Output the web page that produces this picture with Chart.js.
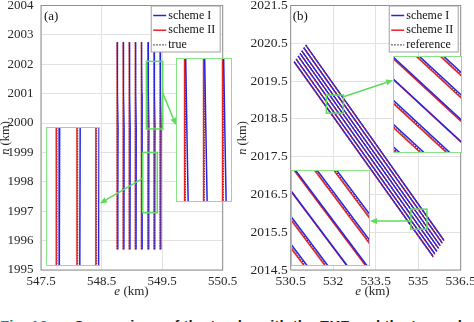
<!DOCTYPE html>
<html>
<head>
<meta charset="utf-8">
<script src="https://cdn.jsdelivr.net/npm/chart.js@4.4.1/dist/chart.umd.min.js"></script>
<style>
  html, body { margin: 0; padding: 0; background: #fff; }
  #page { position: relative; width: 474px; height: 322px; overflow: hidden; font-family: 'Liberation Serif', serif; color: #262626; }
  #page canvas { position: absolute; }
  .axt { position: absolute; font-size: 13px; line-height: 1; white-space: nowrap; transform: translate(-50%, -50%); }
  .axt.rot { font-size: 12.5px; transform: translate(-50%, -50%) rotate(-90deg); }
  .caption { position: absolute; left: 0; top: 318px; white-space: nowrap; font: bold 15px 'Liberation Sans', sans-serif; line-height: 15px; color: #222; }
  .caption b { color: #17807f; margin-right: 26px; }
</style>
</head>
<body>
<div id="page">
  <canvas id="chartA"></canvas>
  <canvas id="chartB"></canvas>
  <canvas id="insetA1"></canvas>
  <canvas id="insetA2"></canvas>
  <canvas id="insetB1"></canvas>
  <canvas id="insetB2"></canvas>
  <div class="axt" style="left:131.5px; top:290px"><i>e</i> (km)</div>
  <div class="axt" style="left:372.5px; top:290px"><i>e</i> (km)</div>
  <div class="axt rot" style="left:5px; top:138px"><i>n</i> (km)</div>
  <div class="axt rot" style="left:242px; top:138px"><i>n</i> (km)</div>
  <div class="caption"><b>Fig. 16</b>Comparison of the tracks with the EKF and the two schemes: (a) straight lines and (b) oblique lines</div>
</div>
<script>
// ---- (a) north-south lines ----
var lineE_a = [548.76, 548.86, 548.96, 549.06, 549.16, 549.27, 549.37, 549.47];
var lineN_a = [2002.75, 1995.7];            // start and end northing of each line
// northing of the check points along a line, and the east error there (km)
var checkN_a = [2002.75, 2002.1, 2001.0, 1999.8, 1999.0, 1997.0, 1995.7];
var errI_a  = [0.000, 0.002, 0.008, 0.015, 0.013, 0.011, 0.011];
var errII_a = [-0.004, -0.004, -0.003, -0.002, -0.004, -0.004, -0.004];

// ---- (b) oblique lines ----
var startE_b = [530.62, 530.69, 530.76, 530.83, 530.89, 530.96, 531.03];
var startN_b = [2020.01, 2020.08, 2020.16, 2020.23, 2020.30, 2020.38, 2020.45];
var endE_b   = [535.53, 535.59, 535.66, 535.72, 535.78, 535.85, 535.91];
var endN_b   = [2014.85, 2014.92, 2014.99, 2015.07, 2015.14, 2015.21, 2015.28];
// north error of each line (km)
var errI_b  = [0.011, 0.012, 0.011, 0.002, 0.006, 0.011, 0.012];
var errII_b = [-0.008, -0.009, -0.008, -0.002, -0.004, -0.007, -0.008];

// axes
var xTicksA = [547.5, 548.5, 549.5, 550.5];
var yTicksA = [1995, 1996, 1997, 1998, 1999, 2000, 2001, 2002, 2003, 2004];
var xTicksB = [530.5, 532, 533.5, 535, 536.5];
var yTicksB = [2014.5, 2015.5, 2016.5, 2017.5, 2018.5, 2019.5, 2020.5, 2021.5];
var legendA = ['scheme I', 'scheme II', 'true'];
var legendB = ['scheme I', 'scheme II', 'reference'];

// zoom frames on the main axes and the ranges shown in the magnified views
// [eMin, eMax, nMin, nMax]
var boxA1 = [549.24, 549.51, 1999.8, 2002.1];
var boxA2 = [549.18, 549.42, 1996.95, 1999.0];
var boxB1 = [531.76, 532.36, 2018.65, 2019.13];
var boxB2 = [534.74, 535.31, 2015.58, 2016.11];
var viewA1 = [549.221, 549.516, 1999.8, 2002.1];
var viewA2 = [549.102, 549.388, 1996.95, 1999.0];
var viewB1 = [532.0, 532.38, 2018.53, 2019.14];
var viewB2 = [534.895, 535.415, 2015.55, 2016.05];

var GREEN = '#5cdc5c';
var FRAME = '#86e486';
var serif = 'Liberation Serif';

// w = width of the coloured lines, d = [width, dash] of the dotted one
function lineStyle(label, kind, w, d) {
    var s = { label: label, data: [], showLine: true, pointRadius: 0, fill: false, tension: 0, spanGaps: false };
    if (kind == 0) { s.borderColor = '#2424e6'; s.borderWidth = w; }
    if (kind == 1) { s.borderColor = '#e62424'; s.borderWidth = w; }
    if (kind == 2) { s.borderColor = '#140a0a'; s.borderWidth = d[0]; s.borderDash = d[1]; }
    return s;
}

function datasetsA(w, d) {
    var sI = lineStyle(legendA[0], 0, w, d), sII = lineStyle(legendA[1], 1, w, d), tr = lineStyle(legendA[2], 2, w, d);
    lineE_a.forEach(function (e, i) {
        if (i > 0) {
            sI.data.push({ x: e, y: null });
            sII.data.push({ x: e, y: null });
            tr.data.push({ x: e, y: null });
        }
        checkN_a.forEach(function (n, j) {
            sI.data.push({ x: e + errI_a[j], y: n });
            sII.data.push({ x: e + errII_a[j], y: n });
        });
        tr.data.push({ x: e, y: lineN_a[0] }, { x: e, y: lineN_a[1] });
    });
    return [sI, sII, tr];
}

function datasetsB(w, d) {
    var sI = lineStyle(legendB[0], 0, w, d), sII = lineStyle(legendB[1], 1, w, d), tr = lineStyle(legendB[2], 2, w, d);
    startE_b.forEach(function (e, i) {
        if (i > 0) {
            sI.data.push({ x: e, y: null });
            sII.data.push({ x: e, y: null });
            tr.data.push({ x: e, y: null });
        }
        sI.data.push({ x: e, y: startN_b[i] + errI_b[i] }, { x: endE_b[i], y: endN_b[i] + errI_b[i] });
        sII.data.push({ x: e, y: startN_b[i] + errII_b[i] }, { x: endE_b[i], y: endN_b[i] + errII_b[i] });
        tr.data.push({ x: e, y: startN_b[i] }, { x: endE_b[i], y: endN_b[i] });
    });
    return [sI, sII, tr];
}

function place(id, pos) {
    var cv = document.getElementById(id);
    cv.width = pos[2];
    cv.height = pos[3];
    cv.style.left = pos[0] + 'px';
    cv.style.top = pos[1] + 'px';
    return cv;
}

function arrow(ctx, x0, y0, x1, y1) {
    var a = Math.atan2(y1 - y0, x1 - x0), len = 7, hw = 3;
    ctx.strokeStyle = GREEN;
    ctx.fillStyle = GREEN;
    ctx.lineWidth = 1.5;
    ctx.beginPath();
    ctx.moveTo(x0, y0);
    ctx.lineTo(x1 - Math.cos(a) * len, y1 - Math.sin(a) * len);
    ctx.stroke();
    ctx.beginPath();
    ctx.moveTo(x1, y1);
    ctx.lineTo(x1 - Math.cos(a) * len - Math.sin(a) * hw, y1 - Math.sin(a) * len + Math.cos(a) * hw);
    ctx.lineTo(x1 - Math.cos(a) * len + Math.sin(a) * hw, y1 - Math.sin(a) * len - Math.cos(a) * hw);
    ctx.closePath();
    ctx.fill();
}

// frame, zoom boxes with arrows, legend and panel letter
function decor(cfg) {
    return {
        id: 'decor',
        afterDraw: function (chart) {
            var ctx = chart.ctx, a = chart.chartArea, x = chart.scales.x, y = chart.scales.y;
            ctx.save();
            ctx.strokeStyle = '#8e8e8e';
            ctx.lineWidth = 1;
            ctx.strokeRect(a.left, a.top, a.width, a.height);

            cfg.zooms.forEach(function (z) {
                var l = x.getPixelForValue(z.box[0]), r = x.getPixelForValue(z.box[1]);
                var t = y.getPixelForValue(z.box[3]), b = y.getPixelForValue(z.box[2]);
                ctx.strokeStyle = GREEN;
                ctx.lineWidth = 1.5;
                ctx.strokeRect(l, t, r - l, b - t);
                var sx = z.from[0] == 'right' ? r : l;
                var sy = t + (b - t) * z.from[1];
                var p = z.pos;
                var ex = (z.to[0] == 'left' ? p[0] : p[0] + p[2]) - cfg.pos[0];
                var ey = p[1] + p[3] * z.to[1] - cfg.pos[1];
                arrow(ctx, sx, sy, ex, ey);
            });

            // legend
            ctx.font = '12px "' + serif + '"';
            var items = chart.data.datasets;
            var tw = Math.max.apply(null, items.map(function (d) { return ctx.measureText(d.label).width; }));
            var w = 18 + tw + 4, h = 46;
            var left = a.right - 2.5 - w, top = a.top + 0.5;
            ctx.fillStyle = '#fff';
            ctx.fillRect(left, top, w, h);
            ctx.strokeStyle = '#a0a0a0';
            ctx.lineWidth = 1;
            ctx.strokeRect(left, top, w, h);
            items.forEach(function (d, i) {
                var yy = top + 9.5 + i * 14.7;
                ctx.strokeStyle = d.borderColor;
                ctx.lineWidth = d.borderDash ? 1 : 1.5;
                ctx.setLineDash(d.borderDash ? [1.5, 1.5] : []);
                ctx.beginPath();
                ctx.moveTo(left + 2, yy);
                ctx.lineTo(left + 15, yy);
                ctx.stroke();
                ctx.setLineDash([]);
                ctx.fillStyle = '#111';
                ctx.textBaseline = 'middle';
                ctx.textAlign = 'left';
                ctx.fillText(d.label, left + 17, yy);
            });

            ctx.font = '13px "' + serif + '"';
            ctx.fillStyle = '#111';
            ctx.fillText(cfg.letter, a.left + cfg.letterDx, a.top + 11);
            ctx.restore();
        }
    };
}

function makePanel(id, cfg) {
    var cv = place(id, cfg.pos);
    var tickFont = { family: serif, size: cfg.tickSize };
    return new Chart(cv, {
        type: 'scatter',
        data: { datasets: cfg.datasets },
        options: {
            responsive: false,
            animation: false,
            events: [],
            layout: { padding: { top: 5.5, right: cfg.padRight, bottom: 0, left: 0 } },
            plugins: { legend: { display: false }, tooltip: { enabled: false } },
            scales: {
                x: {
                    type: 'linear', min: cfg.xTicks[0], max: cfg.xTicks[cfg.xTicks.length - 1],
                    afterBuildTicks: function (s) { s.ticks = cfg.xTicks.map(function (v) { return { value: v }; }); },
                    afterFit: function (s) { s.height = 30; s.paddingLeft = 0; s.paddingRight = 0; },
                    ticks: { autoSkip: false, maxRotation: 0, minRotation: 0, padding: 3.5, font: tickFont, color: '#262626',
                        callback: function (v) { return String(v); } },
                    grid: { color: '#e2e2e2', drawTicks: false },
                    border: { display: false }
                },
                y: {
                    type: 'linear', min: cfg.yTicks[0], max: cfg.yTicks[cfg.yTicks.length - 1],
                    afterBuildTicks: function (s) { s.ticks = cfg.yTicks.map(function (v) { return { value: v }; }); },
                    afterFit: function (s) { s.width = cfg.yWidth; s.paddingTop = 0; s.paddingBottom = 0; },
                    ticks: { autoSkip: false, padding: cfg.yPad, font: tickFont, color: '#262626',
                        callback: function (v) { return String(v); } },
                    grid: { color: '#e2e2e2', drawTicks: false },
                    border: { display: false }
                }
            }
        },
        plugins: [decor(cfg)]
    });
}

function makeInset(id, pos, view, datasets) {
    var cv = place(id, pos);
    return new Chart(cv, {
        type: 'scatter',
        data: { datasets: datasets },
        options: {
            responsive: false,
            animation: false,
            events: [],
            layout: { padding: 0 },
            plugins: { legend: { display: false }, tooltip: { enabled: false } },
            scales: {
                x: { type: 'linear', display: false, min: view[0], max: view[1] },
                y: { type: 'linear', display: false, min: view[2], max: view[3] }
            }
        },
        plugins: [{
            id: 'frame',
            beforeDraw: function (c) { c.ctx.fillStyle = '#fff'; c.ctx.fillRect(0, 0, c.width, c.height); },
            afterDraw: function (c) {
                c.ctx.strokeStyle = FRAME;
                c.ctx.lineWidth = 1;
                c.ctx.strokeRect(0.5, 0.5, c.width - 1, c.height - 1);
            }
        }]
    });
}

var posA1 = [176, 58, 56, 144], posA2 = [46, 127, 54, 139];
var posB1 = [393, 56, 69, 97], posB2 = [291, 170, 79, 96];
var dotsMain = [1.3, [1.6, 1]], dotsInset = [1, [1.3, 1.3]];

makePanel('chartA', {
    pos: [0, 0, 240, 300], padRight: 17.3, yWidth: 41, yPad: 7.5, tickSize: 13,
    xTicks: xTicksA, yTicks: yTicksA, datasets: datasetsA(1.1, dotsMain),
    letter: '(a)', letterDx: 3,
    zooms: [
        { box: boxA1, pos: posA1, from: ['right', 0.47], to: ['left', 0.465] },
        { box: boxA2, pos: posA2, from: ['left', 0.43], to: ['right', 0.55] }
    ]
});
makePanel('chartB', {
    pos: [240, 0, 234, 300], padRight: 13.3, yWidth: 50.7, yPad: 3, tickSize: 13.5,
    xTicks: xTicksB, yTicks: yTicksB, datasets: datasetsB(1.1, dotsMain),
    letter: '(b)', letterDx: 2,
    zooms: [
        { box: boxB1, pos: posB1, from: ['right', 0.09], to: ['left', 0.25] },
        { box: boxB2, pos: posB2, from: ['left', 0.59], to: ['right', 0.53] }
    ]
});

makeInset('insetA1', posA1, viewA1, datasetsA(1.5, dotsInset));
makeInset('insetA2', posA2, viewA2, datasetsA(1.5, dotsInset));
makeInset('insetB1', posB1, viewB1, datasetsB(1.5, dotsInset));
makeInset('insetB2', posB2, viewB2, datasetsB(1.5, dotsInset));
</script>
</body>
</html>
